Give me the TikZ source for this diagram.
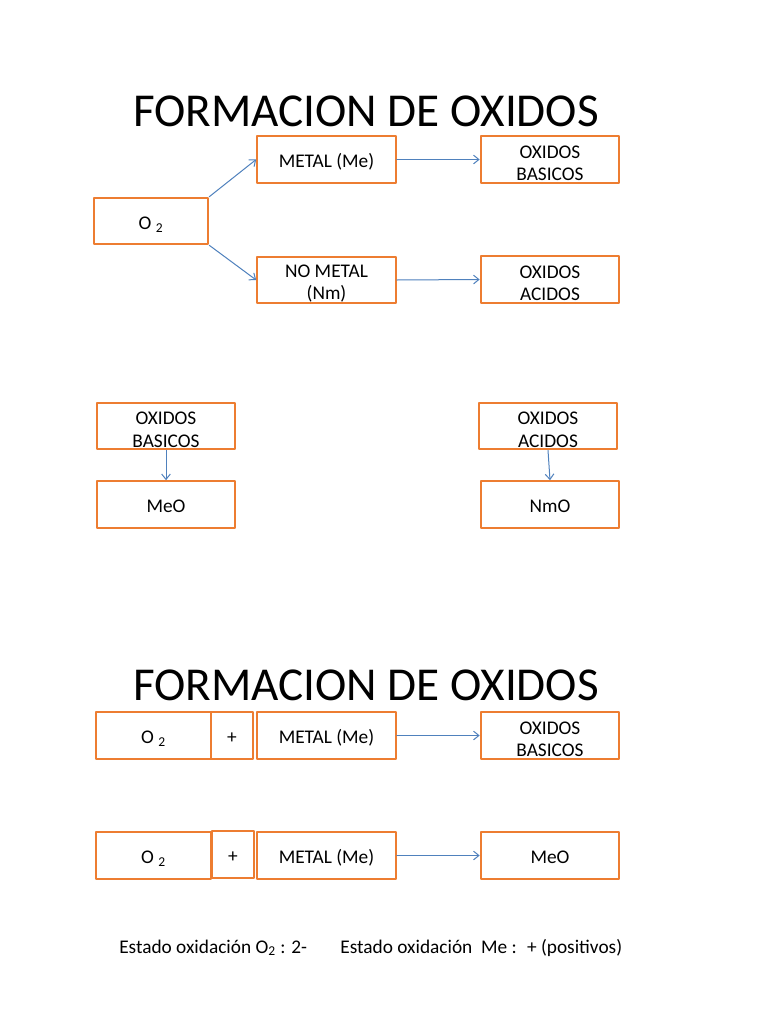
\documentclass[tikz,border=0pt]{standalone}
\usepackage{fontspec}
\setmainfont{Carlito}
\usetikzlibrary{arrows.meta}
\definecolor{ofrange}{rgb}{0.929,0.490,0.192}
\definecolor{ofblue}{rgb}{0.310,0.506,0.741}
\newcommand{\dosl}[2]{\rule{0pt}{15pt}#1\\#2}

\begin{document}
\begin{tikzpicture}[x=0.75pt,y=-0.75pt,line cap=round,line join=round,>={Straight Barb[length=4pt,width=6.5pt]},
box/.style={draw=ofrange,line width=1.5pt,inner sep=0pt,align=center,minimum width=104pt,minimum height=35pt,font=\fontsize{14.5}{16.7}\selectfont},
uno/.style={box,text height=16pt,text depth=3.5pt},
obox/.style={uno,minimum width=86pt},
pbox/.style={uno,minimum width=31.5pt},
conn/.style={->,color=ofblue,line width=0.75pt},
titulo/.style={anchor=base,font=\fontsize{35.4}{42}\selectfont}]

\useasboundingbox (0,0) rectangle (768,1024);
\fill[white] (0,0) rectangle (768,1024);

\node[titulo] (tit1) at (366,126) {FORMACION DE OXIDOS};

\node[obox] (o2) at (151,221) {O \textsubscript{2}};
\node[uno] (metal) at (326.5,159.5) {METAL (Me)};
\node[box] (basicos) at (550,159.5) {\dosl{OXIDOS}{BASICOS}};
\node[box] (nometal) at (326.5,280) {\dosl{NO METAL}{(Nm)}};
\node[box] (acidos) at (550,279.5) {\dosl{OXIDOS}{ACIDOS}};

\draw[conn] (o2.north east) -- (metal.west);
\draw[conn] (o2.south east) -- (nometal.west);
\draw[conn] (metal.east) -- (basicos.west);
\draw[conn] (nometal.east) -- (acidos.west);

\node[box] (basicos2) at (166,426) {\dosl{OXIDOS}{BASICOS}};
\node[uno] (meo) at (166,504.5) {MeO};
\node[box] (acidos2) at (548,426) {\dosl{OXIDOS}{ACIDOS}};
\node[uno] (nmo) at (550,504.5) {NmO};

\draw[conn] (basicos2.south) -- (meo.north);
\draw[conn] (acidos2.south) -- (nmo.north);

\node[titulo] (tit2) at (366,700) {FORMACION DE OXIDOS};

\node[obox] (o2a) at (153.5,735.5) {O \textsubscript{2}};
\node[pbox] (masa) at (232,735.5) {+};
\node[uno] (metala) at (326.5,735.5) {METAL (Me)};
\node[box] (basicosa) at (550,735.5) {\dosl{OXIDOS}{BASICOS}};
\draw[conn] (metala.east) -- (basicosa.west);

\node[obox] (o2b) at (153.5,855.5) {O \textsubscript{2}};
\node[pbox] (masb) at (233,854.5) {+};
\node[uno] (metalb) at (326.5,855.5) {METAL (Me)};
\node[uno] (meob) at (550,855.5) {MeO};
\draw[conn] (metalb.east) -- (meob.west);

\node[anchor=base west,inner sep=0pt,font=\fontsize{14.5}{17.3}\selectfont] (estado) at (119,953)
  {Estado oxidación O\textsubscript{2} : 2-\hspace{25pt}Estado oxidación~ Me :~ + (positivos)};

\end{tikzpicture}
\end{document}
